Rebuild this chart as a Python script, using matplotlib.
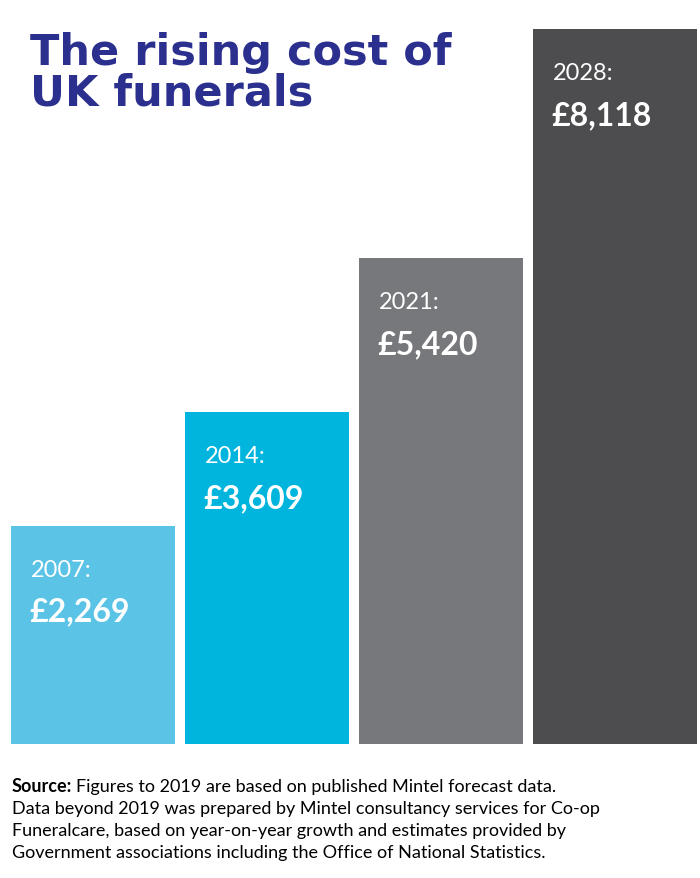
import matplotlib
matplotlib.use("Agg")
import matplotlib.pyplot as plt

years = ["2007", "2014", "2021", "2028"]
values = [2269, 3609, 5420, 8118]
labels = ["£2,269", "£3,609", "£5,420", "£8,118"]
colors = ["#5bc4e6", "#00b5dd", "#77787c", "#4d4d4f"]

fig = plt.figure(figsize=(7, 8.79), dpi=100)
W, H = 700, 879
ax = fig.add_axes([11/W, 134/H, 686/W, 715/H])
base = -300
x = list(range(len(years)))
ax.bar(x, [v - base for v in values], bottom=base, width=0.94, color=colors, align="edge")
ax.set_xlim(0, 3.94 + 0.0)
ax.set_ylim(base, max(values))
ax.axis("off")
for i, (y, v, l) in enumerate(zip(years, values, labels)):
    ax.annotate(y + ":", xy=(i, v), xytext=(14, -50*0.72), textcoords="offset points",
                color="white", fontsize=17, family="Lato", va="baseline")
    ax.annotate(l, xy=(i, v), xytext=(13, -95*0.72), textcoords="offset points",
                color="white", fontsize=23, family="Lato", fontweight="bold", va="baseline")

fig.text(30/W, 1 - 65/H, "The rising cost of", color="#2b2f8e", fontsize=31,
         fontweight="heavy", family="DejaVu Sans", va="baseline")
fig.text(30/W, 1 - 106/H, "UK funerals", color="#2b2f8e", fontsize=31,
         fontweight="heavy", family="DejaVu Sans", va="baseline")

src = ["Figures to 2019 are based on published Mintel forecast data.",
       "Data beyond 2019 was prepared by Mintel consultancy services for Co-op",
       "Funeralcare, based on year-on-year growth and estimates provided by",
       "Government associations including the Office of National Statistics."]
t = fig.text(12/W, 1 - 792/H, "Source:", fontsize=13, fontweight="bold", family="Lato", va="baseline")
fig.canvas.draw()
bb = t.get_window_extent()
fig.text((bb.x1 + 4)/W, 1 - 792/H, src[0], fontsize=13, family="Lato", va="baseline")
for k, s in enumerate(src[1:]):
    fig.text(12/W, 1 - (792 + 22*(k+1))/H, s, fontsize=13, family="Lato", va="baseline")

fig.savefig("out.png", dpi=100)
